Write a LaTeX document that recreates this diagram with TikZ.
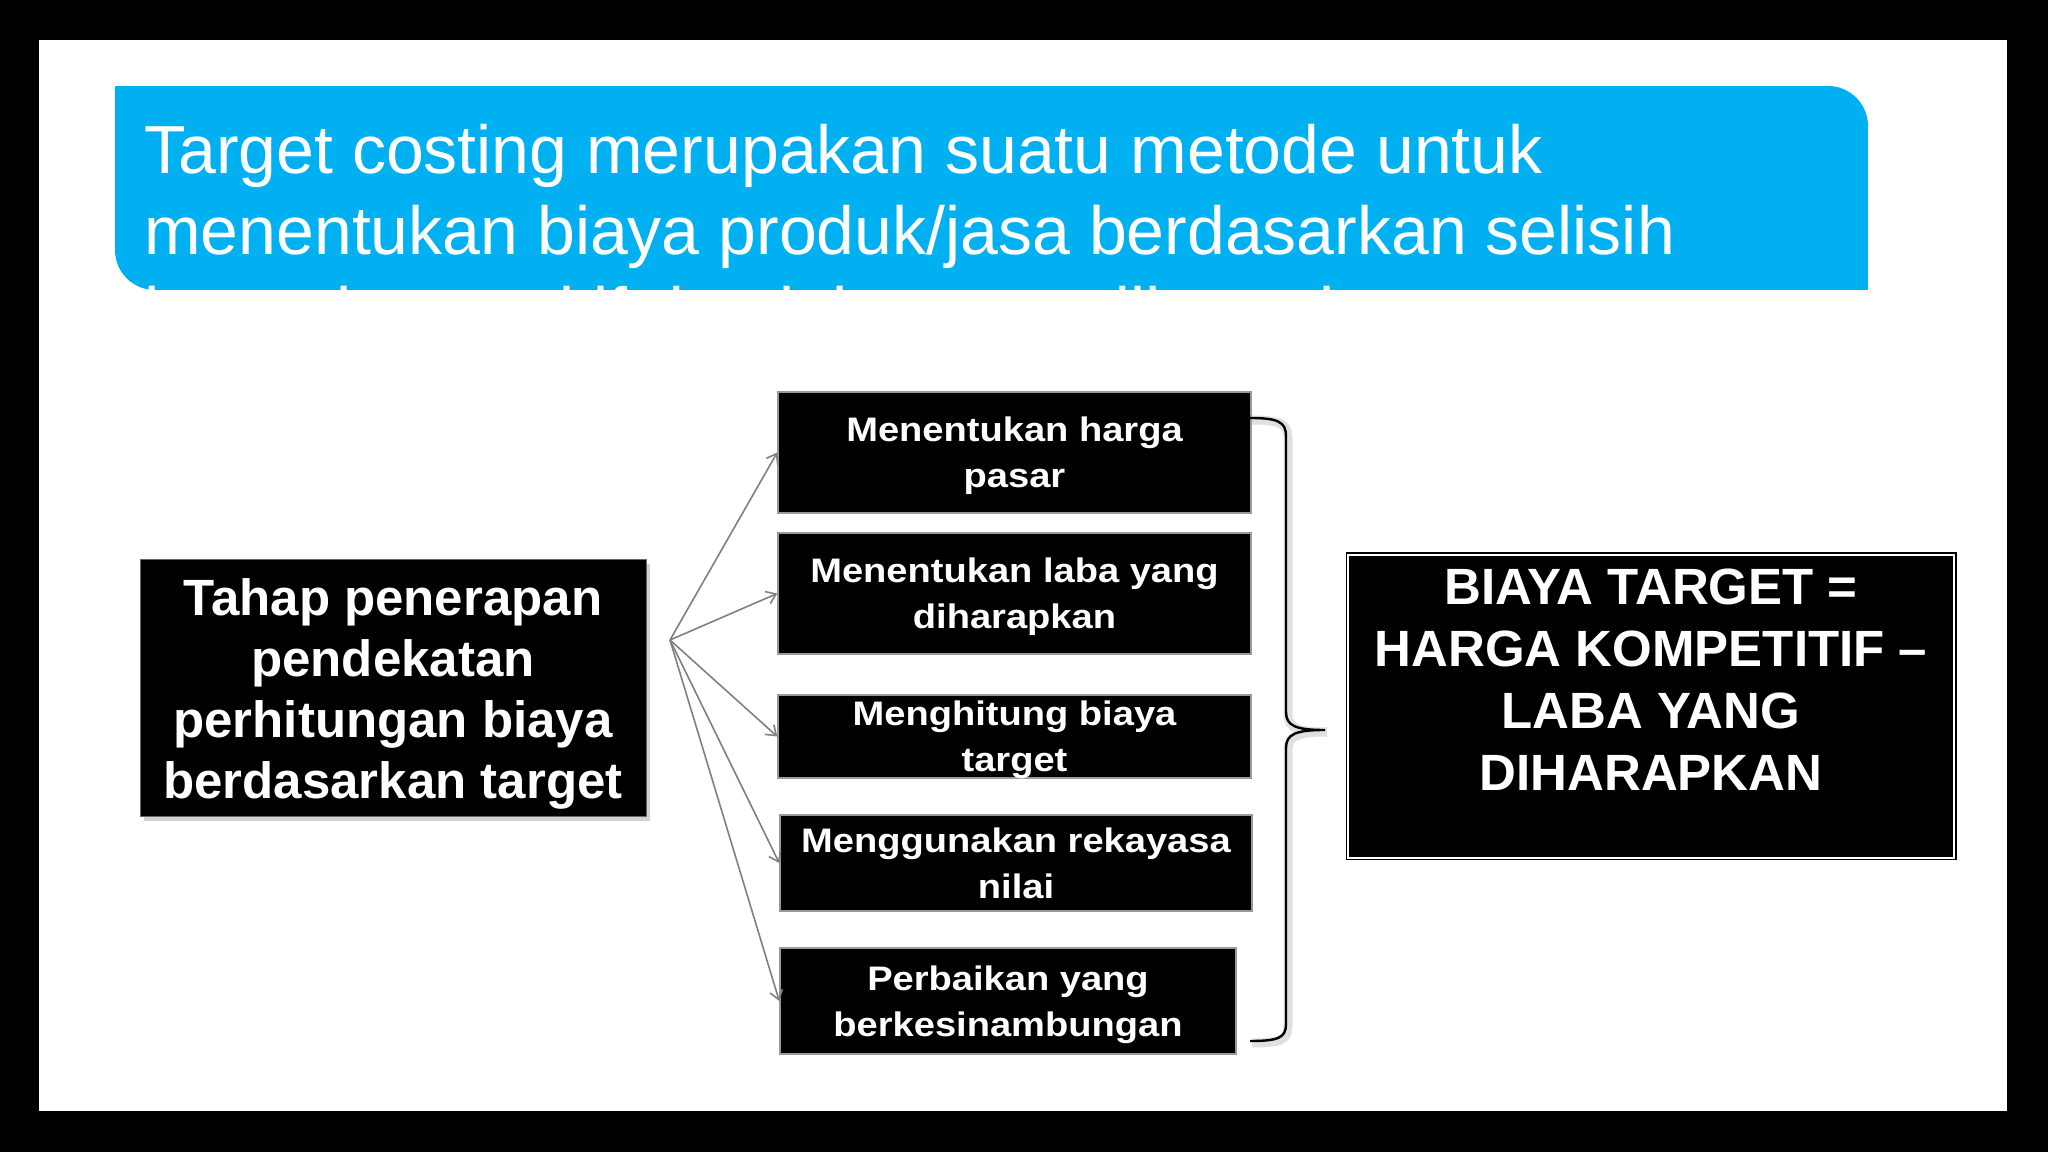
\documentclass[tikz,border=0pt]{standalone}
\usepackage{fontspec}
\setmainfont{Liberation Sans}
\newfontfamily\stepfont{Liberation Sans}[FakeStretch=1.12]
\usetikzlibrary{positioning,arrows.meta,shadows}
\definecolor{titleblue}{HTML}{00B0F0}
\definecolor{linkgray}{HTML}{808080}

\tikzset{
  stepbox/.style={fill=black, draw=black!40, line width=1.5pt, text=white,
    align=center, inner sep=0pt, minimum width=473pt,
    font=\stepfont\bfseries\fontsize{34}{46}\selectfont},
  link/.style={-{Straight Barb[length=9pt,width=13pt]}, draw=linkgray, line width=1.6pt},
}

\begin{document}
\begin{tikzpicture}[x=1pt,y=1pt]
    \useasboundingbox (0,0) rectangle (2048,1152);
    \fill[black] (0,0) rectangle (2048,1152);
    \fill[white] (39,41) rectangle (2007,1112);

    % title bar
    \begin{scope}
        \path[clip] (115,1066) -- (1828,1066) arc[start angle=90,end angle=0,radius=40pt]
            -- (1868,862) -- (155,862) arc[start angle=270,end angle=180,radius=40pt] -- cycle;
        \fill[titleblue] (115,862) rectangle (1868,1066);
        \node (title) [anchor=north west, align=left, text=white, inner sep=0pt,
            font=\fontsize{68}{81}\selectfont] at (144,1028)
            {Target costing merupakan suatu metode untuk\\
             menentukan biaya produk/jasa berdasarkan selisih\\
             harga kompetitif dan laba yang diharapkan};
    \end{scope}

    \node (stage) [fill=black, draw=black!60, line width=1pt, text=white, align=center,
        minimum width=506pt, minimum height=257pt, inner sep=0pt,
        font=\bfseries\fontsize{51}{61}\selectfont,
        drop shadow={shadow xshift=4pt, shadow yshift=-4pt, fill=black!35}]
        at (393,463.5) {Tahap penerapan\\ pendekatan\\ perhitungan biaya\\ \smash{berdasarkan target}};

    \node (market) [stepbox, minimum height=121pt] at (1014.5,699.5) {Menentukan harga\\ \smash{pasar}};
    \node (profit) [stepbox, minimum height=121pt] at (1014.5,558.5) {Menentukan laba yang\\ \smash{diharapkan}};
    \node (compute) [stepbox, minimum height=83pt] at (1014.5,415.5) {Menghitung biaya\\ \smash{target}};
    \node (value) [stepbox, minimum width=472pt, minimum height=96pt] at (1016,289) {Menggunakan rekayasa\\ \smash{nilai}};
    \node (improve) [stepbox, minimum width=456pt, minimum height=106pt] at (1008,151) {Perbaikan yang\\ \smash{berkesinambungan}};

    \coordinate (fork) at (670,512);
    \foreach \b in {market,profit,compute,value,improve}
        \draw[link] (fork) -- (\b.west);

    % brace
    \foreach \w/\c/\s in {9pt/black!12/2pt, 2.4pt/black/0pt}
        \draw[line width=\w, draw=\c, xshift=\s, yshift=-\s]
            (1250,734) .. controls (1278,734) and (1286,730) .. (1286,716) -- (1286,440)
            .. controls (1286,426) and (1296,422) .. (1325,422)
            .. controls (1296,422) and (1286,418) .. (1286,404) -- (1286,128)
            .. controls (1286,114) and (1278,111) .. (1250,111);

    \node (formulabox) [fill=black, draw=black, line width=1.5pt, double=white, double distance=2pt,
        minimum width=606pt, minimum height=303pt, inner sep=0pt] at (1651,445.5) {};
    \node (formula) [below=14pt of formulabox.north, text=white, align=center, inner sep=0pt,
        font=\bfseries\fontsize{51}{62}\selectfont]
        {BIAYA TARGET =\\ HARGA KOMPETITIF \textendash\\ LABA YANG\\ DIHARAPKAN};
\end{tikzpicture}
\end{document}
